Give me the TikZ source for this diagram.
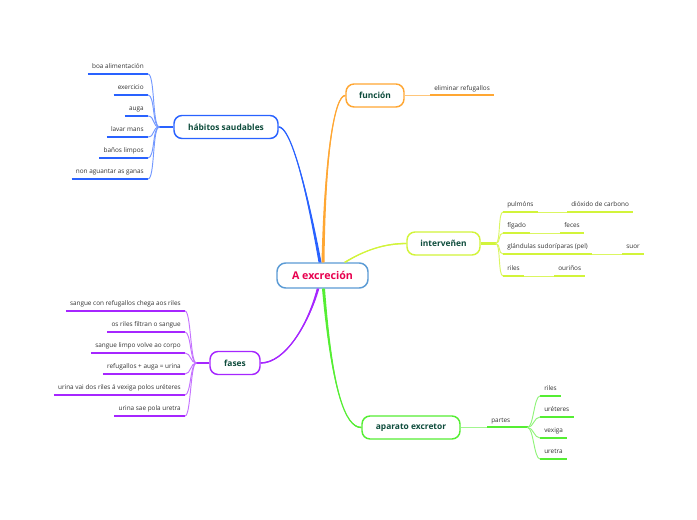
\documentclass[tikz,border=0pt]{standalone}
\usepackage{fontspec}
\setmainfont{Open Sans}
\usetikzlibrary{calc}
\definecolor{cblue}{HTML}{2962FF}
\definecolor{corange}{HTML}{FFA733}
\definecolor{cyg}{HTML}{D2F43A}
\definecolor{cpurple}{HTML}{A626FF}
\definecolor{cgreen}{HTML}{55EE33}
\definecolor{rootborder}{HTML}{5B9BD5}
\definecolor{roottext}{HTML}{E8004F}
\definecolor{boxtext}{HTML}{0E4C3C}
\definecolor{leaftext}{HTML}{333333}
% tapered main branch: colour, start, control1, control2, end, half width at start
\newcommand{\mbranch}[6]{%
  \fill[#1] ($(#2)+(-#6,0)$) .. controls ($#3+(-#6*0.5,0)$) and ($#4+(0,-0.7)$) .. ($(#5)+(0,-0.7)$)
    -- ($(#5)+(0,0.7)$) .. controls ($#4+(0,0.7)$) and ($#3+(#6*0.5,0)$) .. ($(#2)+(#6,0)$) -- cycle;
  \draw[#1, line width=0.9pt] (#2) .. controls #3 and #4 .. (#5);}
\begin{document}
\begin{tikzpicture}[x=0.75pt,y=-0.75pt,
  rootbox/.style={draw=rootborder, line width=1.1pt, rounded corners=6.5pt, fill=white,
    text=roottext, font=\bfseries\fontsize{8}{9}\selectfont,
    minimum width=68.25pt, minimum height=18.75pt, inner sep=0pt},
  mainbox/.style={draw=#1, line width=1.1pt, rounded corners=6pt, fill=white,
    text=boxtext, font=\bfseries\fontsize{6.3}{7.5}\selectfont,
    minimum height=17.25pt, inner sep=0pt},
  leaf/.style={text=leaftext, font=\fontsize{4.8}{5.8}\selectfont, inner xsep=3pt,
    inner ysep=2.6pt, text height=3.6pt, text depth=1.2pt},
  leafL/.style={leaf, anchor=south east},
  leafR/.style={leaf, anchor=south west},
  uline/.style={draw=#1, line width=1.5pt},
  twig/.style={draw=#1, line width=0.7pt},
  hubline/.style={draw=#1, line width=1.6pt}]
\path[fill=white] (0,0) rectangle (697,520);
\useasboundingbox (0,0) rectangle (697,520);

% central and main nodes
\node[rootbox] (c) at (322.5,275.5) {A excreción};
\node[mainbox=cblue, minimum width=78pt] (hab) at (226,127) {hábitos saudables};
\node[mainbox=corange, minimum width=43.5pt] (fun) at (375,95.5) {función};
\node[mainbox=cyg, minimum width=54.75pt] (int) at (443.5,243.5) {interveñen};
\node[mainbox=cpurple, minimum width=37.5pt] (fas) at (235,363) {fases};
\node[mainbox=cgreen, minimum width=73.5pt] (apa) at (411,427.5) {aparato excretor};

% main branches
\coordinate (sb) at ($(c.north)+(-2.5,0)$);
\coordinate (so) at ($(c.north)+(0.5,0)$);
\coordinate (sy) at ($(c.north)+(22.5,0)$);
\coordinate (sp) at ($(c.south)+(-4.5,0)$);
\coordinate (sg) at ($(c.south)+(1,0)$);
\mbranch{cblue}{sb}{(305,180)}{(290,127)}{hab.east}{1.5}
\mbranch{corange}{so}{(325,150)}{(335,95.5)}{fun.west}{1.5}
\mbranch{cyg}{sy}{(365,250)}{(385,243.5)}{int.west}{1.4}
\mbranch{cpurple}{sp}{(308,325)}{(285,363)}{fas.east}{1.3}
\mbranch{cgreen}{sg}{(332,390)}{(345,427.5)}{apa.west}{1.5}

% hábitos saudables
\node[leafL] (h1) at (148,74) {boa alimentación};
\node[leafL] (h2) at (148,95) {exercicio};
\node[leafL] (h3) at (148,116) {auga};
\node[leafL] (h4) at (148,137) {lavar mans};
\node[leafL] (h5) at (148,158) {baños limpos};
\node[leafL] (h6) at (148,179) {non aguantar as ganas};
\coordinate (hh) at ($(hab.west)+(-14,0)$);
\draw[hubline=cblue] (hab.west) -- (hh);
\foreach \n in {h1,h2,h3,h4,h5,h6}{
  \draw[uline=cblue] (\n.south west) -- (\n.south east);
  \draw[twig=cblue!65] (hh) .. controls +(-7,0) and +(7,0) .. (\n.south east);}

% función
\node[leafR] (f1) at (430,95.5) {eliminar refugallos};
\draw[twig=corange!65] (fun.east) -- (f1.south west);
\draw[uline=corange] (f1.south west) -- (f1.south east);

% interveñen
\node[leafR] (i1) at (503,212) {pulmóns};
\node[leafR] (i2) at (503,233) {fígado};
\node[leafR] (i3) at (503,254) {glándulas sudoríparas (pel)};
\node[leafR] (i4) at (503,276) {riles};
\node[leafR] (j1) at (567,212) {dióxido de carbono};
\node[leafR] (j2) at (560,233) {feces};
\node[leafR] (j3) at (622,254) {suor};
\node[leafR] (j4) at (554,276) {ouriños};
\coordinate (ih) at ($(int.east)+(15,0)$);
\draw[hubline=cyg] (int.east) -- (ih);
\foreach \n in {i1,i2,i3,i4}{
  \draw[twig=cyg!80] (ih) .. controls +(5,0) and +(-5,0) .. (\n.south west);}
\draw[twig=cyg!80] (i1.south east) -- (j1.south west);
\draw[twig=cyg!80] (i2.south east) -- (j2.south west);
\draw[twig=cyg!80] (i3.south east) -- (j3.south west);
\draw[twig=cyg!80] (i4.south east) -- (j4.south west);
\foreach \n in {i1,i2,i3,i4,j1,j2,j3,j4}{
  \draw[uline=cyg] (\n.south west) -- (\n.south east);}

% fases
\node[leafL] (p1) at (185,311) {sangue con refugallos chega aos riles};
\node[leafL] (p2) at (185,332) {os riles filtran o sangue};
\node[leafL] (p3) at (185,353) {sangue limpo volve ao corpo};
\node[leafL] (p4) at (185,374) {refugallos + auga = urina};
\node[leafL] (p5) at (185,395) {urina vai dos riles á vexiga polos uréteres};
\node[leafL] (p6) at (185,416) {urina sae pola uretra};
\coordinate (ph) at ($(fas.west)+(-13,0)$);
\draw[hubline=cpurple] (fas.west) -- (ph);
\foreach \n in {p1,p2,p3,p4,p5,p6}{
  \draw[uline=cpurple] (\n.south west) -- (\n.south east);
  \draw[twig=cpurple!65] (ph) .. controls +(-6,0) and +(6,0) .. (\n.south east);}

% aparato excretor
\node[leafR, text width=24pt, align=left] (a0) at (487,427.5) {partes};
\draw[twig=cgreen!55] (apa.east) -- (a0.south west);
\draw[uline=cgreen] (a0.south west) -- (a0.south east);
\node[leafR] (a1) at (540,396) {riles};
\node[leafR] (a2) at (540,417) {uréteres};
\node[leafR] (a3) at (540,438) {vexiga};
\node[leafR] (a4) at (540,459) {uretra};
\foreach \n in {a1,a2,a3,a4}{
  \draw[uline=cgreen] (\n.south west) -- (\n.south east);
  \draw[twig=cgreen!65] (a0.south east) .. controls +(6,0) and +(-6,0) .. (\n.south west);}
\end{tikzpicture}
\end{document}
